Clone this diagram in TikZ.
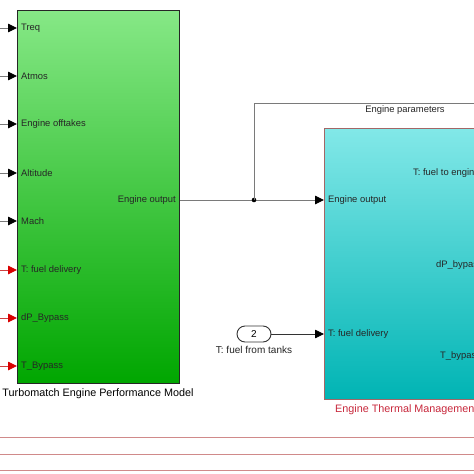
\documentclass[tikz,border=0pt]{standalone}
\usepackage{fontspec}
\setmainfont{Liberation Sans}
\usetikzlibrary{arrows.meta,shapes.misc}
\definecolor{gtop}{HTML}{86E886}
\definecolor{gbot}{HTML}{00A600}
\definecolor{ctop}{HTML}{82E8E8}
\definecolor{cbot}{HTML}{00B4B4}
\definecolor{wire}{HTML}{7A7A7A}
\definecolor{redwire}{HTML}{D04040}
\definecolor{redtext}{HTML}{C8283C}
\definecolor{sepline}{HTML}{D08A8A}
\tikzset{
  portlbl/.style={font=\fontsize{9.4}{10}\selectfont, inner sep=0pt, text=black!85},
  wireln/.style={draw=wire, line width=0.9pt},
  blktip/.style={-{Triangle[length=9pt,width=8.5pt,black]}},
  inarrow/.style={wireln, blktip},
  redarrow/.style={draw=redwire, line width=0.9pt, -{Triangle[length=9pt,width=8.5pt,red!85!black]}},
  blocktitle/.style={font=\fontsize{10.8}{12}\selectfont, inner sep=0pt},
}
\begin{document}
\begin{tikzpicture}[x=1pt,y=-1pt]
\useasboundingbox (0,0) rectangle (474,474);
\clip (0,0) rectangle (474,474);
\fill[white] (0,0) rectangle (474,474);
% green block
\node[draw=black!85, line width=1.3pt, top color=gtop, bottom color=gbot, minimum width=162pt, minimum height=373pt, anchor=north west, inner sep=0pt] (tm) at (17,10) {};
% cyan block
\node[draw=black!60!red!60, line width=1pt, top color=ctop, bottom color=cbot, minimum width=200pt, minimum height=271pt, anchor=north west, inner sep=0pt] (etm) at (324,128) {};
% inputs
\foreach \y/\n in {28/1,76/2,124/3,173/4,221/5}{
  \coordinate (in\n) at (0,\y);
  \draw[inarrow] (in\n) -- (in\n -| tm.west);
}
\foreach \y/\n in {270/6,318/7,366/8}{
  \coordinate (in\n) at (0,\y);
  \draw[redarrow] (in\n) -- (in\n -| tm.west);
}
\node[portlbl, anchor=west] (l1) at (21,28) {Treq};
\node[portlbl, anchor=west] (l2) at (21,76) {Atmos};
\node[portlbl, anchor=west] (l3) at (21,124) {Engine offtakes};
\node[portlbl, anchor=west] (l4) at (21,173) {Altitude};
\node[portlbl, anchor=west] (l5) at (21,221) {Mach};
\node[portlbl, anchor=west] (l6) at (21,270) {T: fuel delivery};
\node[portlbl, anchor=west] (l7) at (21,318) {dP\_Bypass};
\node[portlbl, anchor=west] (l8) at (21,366) {T\_Bypass};
\node[portlbl, anchor=east] (eo) at (176,200) {Engine output};
\node[blocktitle, anchor=north] (tmt) at (98,388) {Turbomatch Engine Performance Model};
% engine output wire
\coordinate (j) at (254,200);
\coordinate (ein) at (324,200);
\draw[inarrow] (tm.east |- j) -- (ein);
\fill[black] (j) circle (2.3pt);
\coordinate (pe) at (480,103);
\draw[wireln] (j) |- (pe);
\node[portlbl, anchor=north] (eparam) at (405,105) {Engine parameters};
% cyan labels
\node[portlbl, anchor=west] (c1) at (328,200) {Engine output};
\node[portlbl, anchor=west] (c2) at (328,334) {T: fuel delivery};
\node[portlbl, anchor=west] (c3) at (413,173) {T: fuel to engine};
\node[portlbl, anchor=west] (c4) at (436,265) {dP\_bypass};
\node[portlbl, anchor=west] (c5) at (440,356) {T\_bypass};
\node[blocktitle, text=redtext, anchor=west] (etmt) at (335,410) {Engine Thermal Management};
% inport 2
\node[rounded rectangle, draw=black!80, line width=0.9pt, fill=white, minimum width=34pt, minimum height=16pt, inner sep=0pt, font=\fontsize{10}{11}\selectfont] (ip2) at (254,334) {2};
\node[portlbl, font=\fontsize{10}{11}\selectfont, anchor=north] (ip2l) at (254,346) {T: fuel from tanks};
\draw[draw=black!80, line width=0.8pt, blktip] (ip2.east) -- (ip2.east -| etm.west);
% bottom lines
\foreach \y/\n in {437/a,454/b,470/c}{
  \coordinate (s\n) at (0,\y);
  \coordinate (e\n) at (474,\y);
  \draw[sepline, line width=0.8pt] (s\n) -- (e\n);
}
\end{tikzpicture}
\end{document}
